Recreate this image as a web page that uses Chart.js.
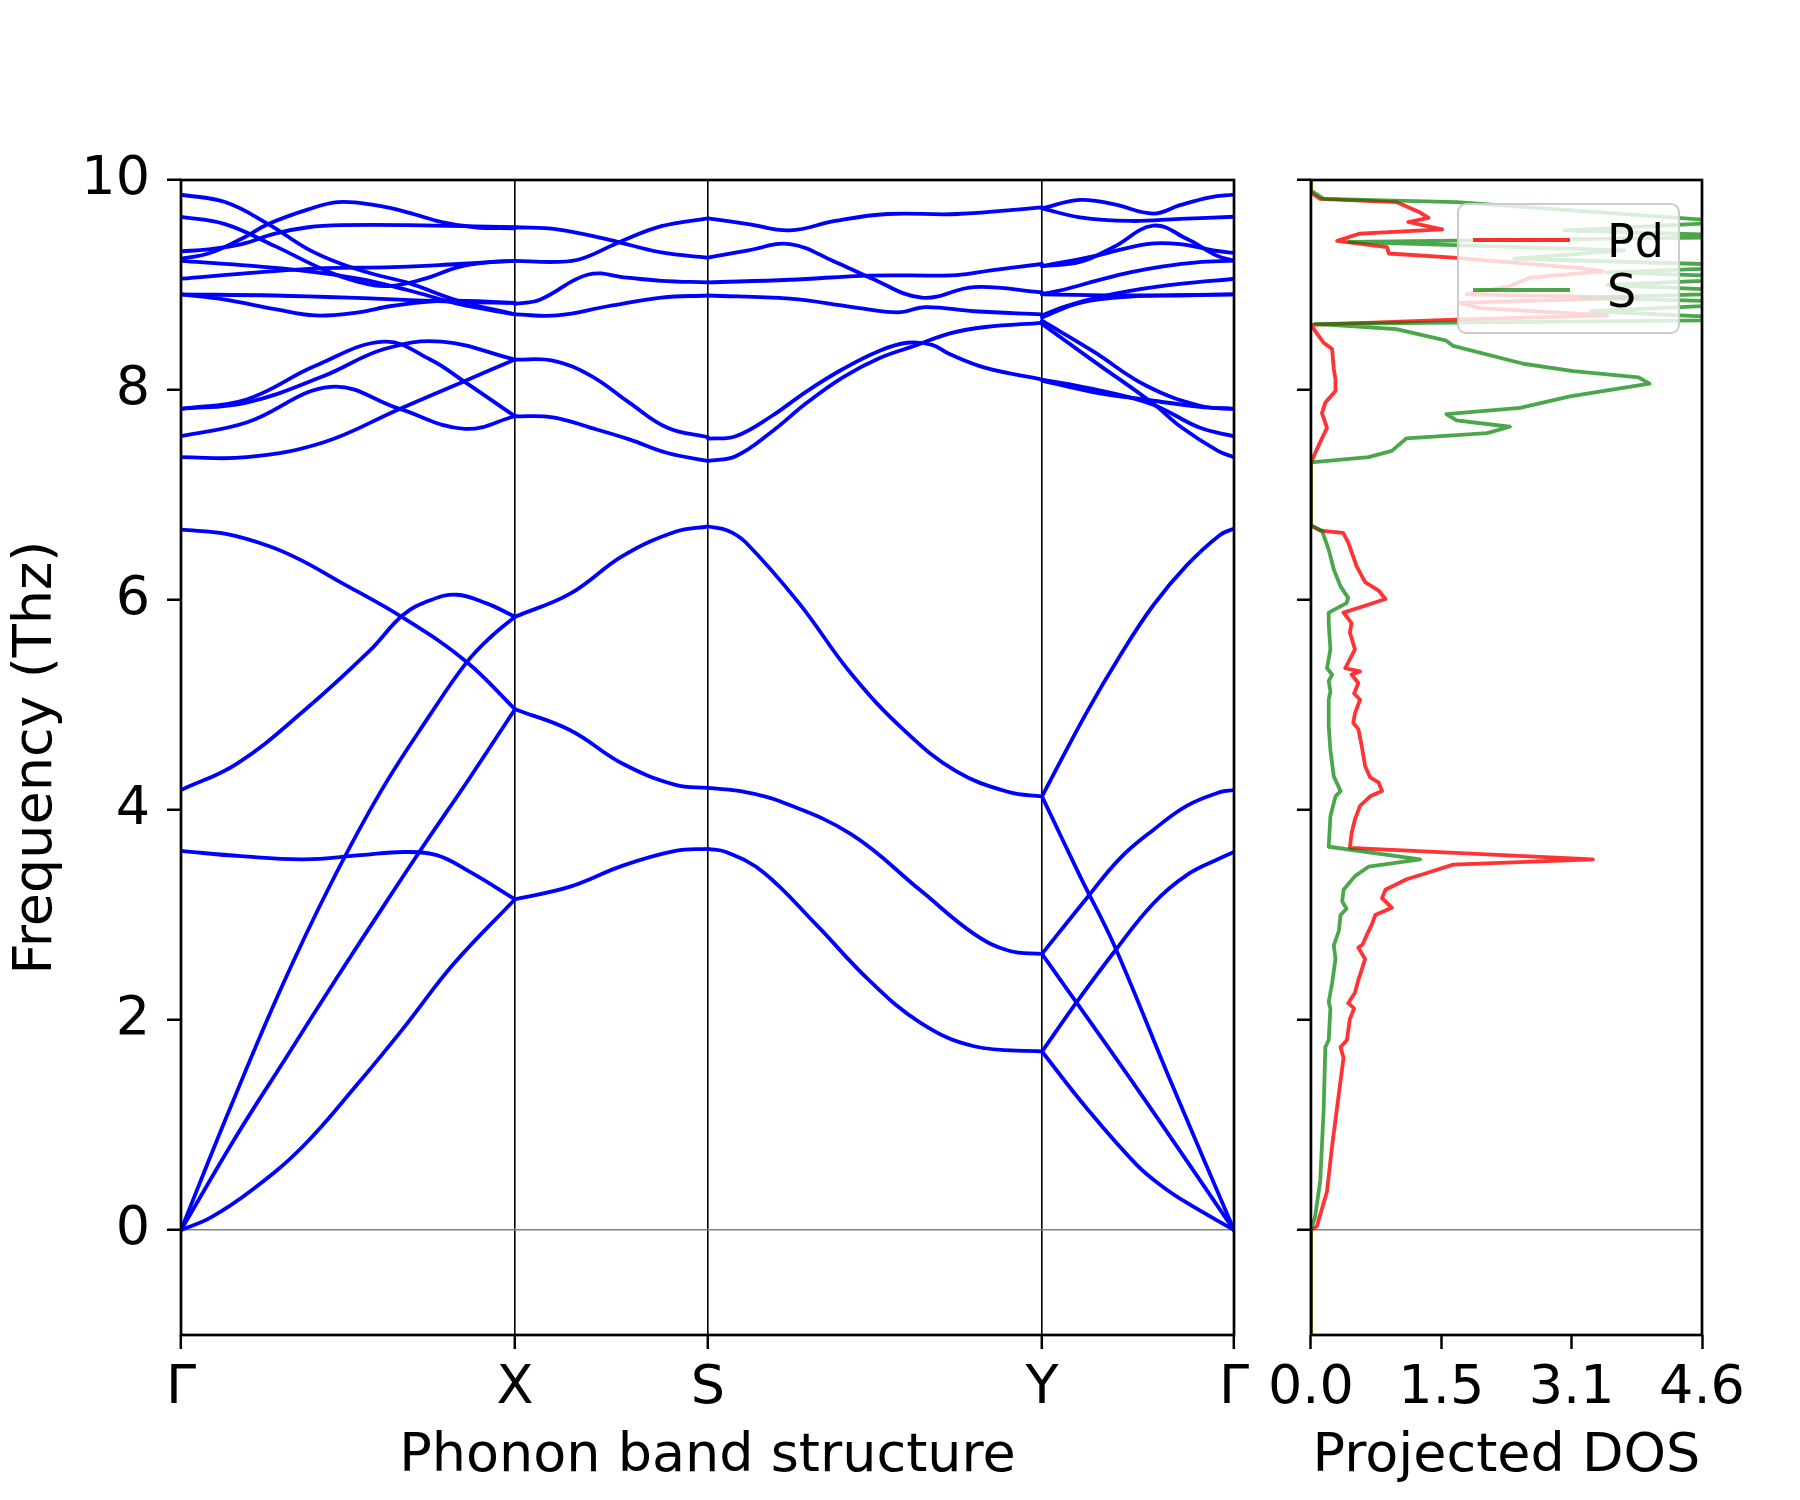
<!DOCTYPE html>
<html>
<head>
<meta charset="utf-8">
<script src="https://cdn.jsdelivr.net/npm/chart.js@4.4.0/dist/chart.umd.min.js"></script>
<style>
html,body{margin:0;padding:0;background:#fff;}
body{width:1800px;height:1500px;position:relative;overflow:hidden;font-family:'DejaVu Sans',sans-serif;}
canvas{position:absolute;top:0;}
#band{left:0;width:1260px;height:1500px;}
#dos{left:1260px;width:540px;height:1500px;}
#legendBox{position:absolute;left:1457px;top:203px;width:223px;height:131px;box-sizing:border-box;border:2.5px solid #cccccc;border-radius:9px;background:rgba(255,255,255,0.8);}
.sw{position:absolute;height:3.8px;}
.lt{position:absolute;font-size:46px;line-height:46px;color:#000;font-family:'DejaVu Sans',sans-serif;white-space:nowrap;}
</style>
</head>
<body>
<canvas id="band" width="1260" height="1500"></canvas>
<canvas id="dos" width="540" height="1500"></canvas>
<div id="legendBox"></div>
<script>
// ---------- axis data ----------
const kTicks = [0, 3.34, 5.27, 8.61, 10.53];
const kLabels = ['Γ', 'X', 'S', 'Y', 'Γ'];
const freqTicks = [0, 2, 4, 6, 8, 10];
const dosTicks = [0, 1.54, 3.08, 4.62];
const seriesNames = ['Pd', 'S'];

// ---------- phonon bands, [k, THz] per branch, per path segment ----------
const bandsGX = [
  [[0,0],[0.5,1.18],[1.0,2.3],[1.5,3.3],[2.0,4.18],[2.5,4.92],[2.86,5.41],[3.1,5.65],[3.34,5.84]],
  [[0,0],[0.557,0.9],[1.057,1.65],[1.557,2.4],[2.057,3.13],[2.39,3.61],[2.89,4.31],[3.34,4.96]],
  [[0,0],[0.3,0.12],[0.723,0.39],[1.223,0.80],[1.757,1.38],[2.223,1.92],[2.723,2.53],[3.34,3.15]],
  [[0,3.61],[0.6,3.56],[1.223,3.53],[1.8,3.57],[2.223,3.60],[2.557,3.57],[2.89,3.41],[3.34,3.15]],
  [[0,4.19],[0.557,4.44],[1.223,4.94],[1.89,5.52],[2.223,5.86],[2.5,6.0],[2.757,6.05],[3.05,5.97],[3.34,5.84]],
  [[0,6.67],[0.45,6.63],[0.89,6.51],[1.2,6.38],[1.557,6.19],[2.223,5.83],[2.857,5.41],[3.34,4.96]],
  [[0,7.36],[0.655,7.36],[1.421,7.50],[2.186,7.82],[2.799,8.07],[3.34,8.29]],
  [[0,7.56],[0.655,7.69],[1.497,8.03],[2.186,7.82],[2.837,7.63],[3.34,7.75]],
  [[0,7.82],[0.655,7.91],[1.344,8.23],[2.033,8.46],[2.492,8.29],[2.818,8.09],[3.34,7.75]],
  [[0,7.82],[0.655,7.88],[1.421,8.13],[2.033,8.39],[2.607,8.46],[3.34,8.29]],
  [[0,9.86],[0.44,9.79],[0.873,9.58],[1.273,9.34],[1.607,9.20],[1.94,9.10],[2.273,9.02],[2.773,8.85],[3.34,8.72]],
  [[0,9.65],[0.44,9.58],[0.94,9.37],[1.44,9.14],[1.773,9.03],[2.073,8.99],[2.44,9.06],[2.773,9.17],[3.107,9.22],[3.34,9.23]],
  [[0,9.25],[0.273,9.30],[0.607,9.44],[0.873,9.58],[1.273,9.72],[1.573,9.79],[1.94,9.76],[2.273,9.69],[2.607,9.60],[2.94,9.55],[3.34,9.54]],
  [[0,9.32],[0.273,9.34],[0.607,9.39],[0.94,9.49],[1.273,9.55],[1.607,9.57],[2.273,9.57],[3.34,9.55]],
  [[0,9.23],[0.607,9.19],[1.273,9.13],[1.773,9.06],[2.273,8.95],[2.773,8.82],[3.34,8.72]],
  [[0,9.06],[0.773,9.12],[1.44,9.16],[2.107,9.17],[2.773,9.20],[3.34,9.23]],
  [[0,8.91],[0.94,8.90],[1.94,8.87],[2.773,8.84],[3.34,8.83]],
  [[0,8.91],[0.44,8.86],[0.94,8.77],[1.34,8.71],[1.773,8.74],[2.107,8.80],[2.607,8.85],[3.34,8.83]]
];
const bandsXS = [
  [[3.34,5.84],[3.892,6.06],[4.418,6.42],[4.944,6.65],[5.27,6.70]],
  [[3.34,4.96],[3.892,4.76],[4.418,4.44],[4.944,4.24],[5.27,4.21]],
  [[3.34,3.15],[3.892,3.27],[4.418,3.47],[4.944,3.61],[5.27,3.63]],
  [[3.34,8.29],[3.717,8.28],[4.10,8.135],[4.482,7.88],[4.865,7.64],[5.27,7.55]],
  [[3.34,7.75],[3.717,7.74],[4.10,7.64],[4.482,7.53],[4.865,7.40],[5.27,7.325]],
  [[3.34,9.55],[3.761,9.53],[4.283,9.43],[4.804,9.31],[5.27,9.26]],
  [[3.34,9.23],[3.761,9.22],[4.005,9.25],[4.387,9.41],[4.804,9.56],[5.27,9.635]],
  [[3.34,8.82],[3.588,8.86],[4.074,9.10],[4.457,9.07],[4.804,9.04],[5.27,9.025]],
  [[3.34,8.72],[3.761,8.71],[4.283,8.80],[4.804,8.88],[5.27,8.90]]
];
const bandsSY = [
  [[5.27,6.70],[5.47,6.66],[5.646,6.55],[6.18,5.97],[6.70,5.30],[7.23,4.76],[7.75,4.37],[8.28,4.17],[8.61,4.13]],
  [[5.27,4.21],[5.646,4.17],[5.997,4.08],[6.70,3.77],[7.40,3.23],[7.93,2.82],[8.28,2.66],[8.61,2.63]],
  [[5.27,3.63],[5.45,3.60],[5.82,3.41],[6.35,2.91],[6.88,2.38],[7.40,1.97],[7.93,1.75],[8.61,1.70]],
  [[5.27,7.537],[5.547,7.56],[5.904,7.75],[6.261,7.99],[6.619,8.20],[6.976,8.37],[7.261,8.45],[7.511,8.43],[7.69,8.34],[8.047,8.21],[8.61,8.10]],
  [[5.27,7.325],[5.547,7.37],[5.904,7.60],[6.261,7.88],[6.619,8.12],[6.976,8.30],[7.333,8.42],[7.69,8.54],[8.047,8.60],[8.61,8.64]],
  [[5.27,9.635],[5.673,9.58],[6.09,9.52],[6.542,9.61],[7.063,9.676],[7.759,9.676],[8.61,9.74]],
  [[5.27,9.26],[5.673,9.33],[6.09,9.39],[6.542,9.22],[6.89,9.07],[7.411,8.88],[7.932,8.98],[8.61,8.93]],
  [[5.27,9.025],[6.09,9.05],[6.89,9.09],[7.759,9.095],[8.10,9.14],[8.61,9.20]],
  [[5.27,8.90],[6.09,8.87],[6.716,8.79],[7.168,8.74],[7.446,8.79],[7.932,8.75],[8.61,8.72]]
];
const bandsYG = [
  [[8.61,4.13],[9.057,4.93],[9.39,5.47],[9.723,5.95],[10.057,6.33],[10.39,6.62],[10.53,6.68]],
  [[8.61,4.13],[8.99,3.37],[9.333,2.71],[9.89,1.43],[10.53,0]],
  [[8.61,2.63],[9.057,3.16],[9.39,3.54],[9.723,3.81],[10.057,4.04],[10.39,4.17],[10.53,4.19]],
  [[8.61,2.63],[9.573,1.33],[10.53,0]],
  [[8.61,1.70],[8.957,2.17],[9.333,2.65],[9.723,3.11],[10.057,3.38],[10.39,3.54],[10.53,3.60]],
  [[8.61,1.70],[9.057,1.16],[9.557,0.62],[9.807,0.42],[10.057,0.26],[10.53,0]],
  [[8.61,8.66],[9.119,8.37],[9.654,8.04],[10.19,7.85],[10.53,7.82]],
  [[8.61,8.63],[9.119,8.28],[9.708,7.88],[10.011,7.64],[10.369,7.42],[10.53,7.36]],
  [[8.61,8.10],[9.119,8.01],[9.708,7.865],[10.19,7.64],[10.53,7.56]],
  [[8.61,8.09],[9.119,7.98],[9.708,7.90],[10.19,7.84],[10.53,7.82]],
  [[8.61,9.73],[8.99,9.81],[9.323,9.77],[9.723,9.68],[9.99,9.76],[10.29,9.835],[10.53,9.86]],
  [[8.61,9.73],[8.99,9.645],[9.49,9.61],[9.99,9.63],[10.53,9.65]],
  [[8.61,9.18],[8.99,9.22],[9.323,9.36],[9.723,9.565],[10.057,9.44],[10.357,9.28],[10.53,9.23]],
  [[8.61,9.18],[9.157,9.28],[9.657,9.39],[9.99,9.39],[10.323,9.33],[10.53,9.305]],
  [[8.61,8.914],[8.823,8.955],[9.157,9.041],[9.49,9.12],[9.823,9.177],[10.157,9.216],[10.53,9.232]],
  [[8.61,8.91],[9.49,8.90],[10.53,8.91]],
  [[8.61,8.71],[8.823,8.79],[9.157,8.88],[9.49,8.945],[9.99,9.01],[10.53,9.057]],
  [[8.61,8.69],[8.99,8.83],[9.49,8.89],[9.99,8.90],[10.53,8.91]]
];

// ---------- projected DOS, [THz, states] ----------
const dosPd = [[-1,0],[0,0],[0.035,0.07],[0.20,0.13],[0.37,0.19],[0.80,0.25],[1.64,0.385],[1.74,0.35],[1.81,0.425],[2.01,0.46],[2.11,0.51],[2.16,0.44],[2.26,0.52],[2.38,0.56],[2.58,0.64],[2.69,0.56],[2.72,0.61],[2.81,0.66],[2.91,0.72],[3.00,0.76],[3.07,0.955],[3.16,0.84],[3.24,0.88],[3.34,1.13],[3.40,1.37],[3.48,1.68],[3.53,3.33],[3.64,0.46],[3.78,0.48],[3.91,0.52],[4.04,0.58],[4.13,0.70],[4.18,0.84],[4.26,0.80],[4.31,0.70],[4.42,0.64],[4.61,0.60],[4.77,0.56],[4.83,0.50],[4.92,0.52],[5.05,0.58],[5.11,0.51],[5.21,0.56],[5.29,0.48],[5.32,0.58],[5.35,0.405],[5.53,0.52],[5.69,0.46],[5.78,0.48],[5.88,0.385],[5.94,0.62],[6.01,0.88],[6.09,0.80],[6.17,0.64],[6.32,0.54],[6.55,0.44],[6.64,0.38],[6.66,0.11],[6.71,0],[7.31,0],[7.47,0.09],[7.64,0.19],[7.78,0.13],[7.88,0.17],[7.99,0.29],[8.10,0.29],[8.20,0.27],[8.39,0.25],[8.45,0.15],[8.54,0.07],[8.62,0],[8.67,1.7],[8.71,3.5],[8.78,2.0],[8.83,1.76],[8.88,3.85],[8.91,1.84],[8.99,2.35],[9.07,2.59],[9.13,3.45],[9.16,3.18],[9.26,1.68],[9.30,0.92],[9.36,0.90],[9.42,0.31],[9.49,0.58],[9.53,1.55],[9.60,1.15],[9.64,1.39],[9.69,1.29],[9.79,1.01],[9.82,0.11],[9.88,0],[10,0]];
const dosS = [[-1,0],[0,0],[0.13,0.05],[0.47,0.11],[1.14,0.15],[1.74,0.17],[1.81,0.21],[2.11,0.23],[2.17,0.21],[2.35,0.25],[2.58,0.29],[2.71,0.27],[2.85,0.33],[3.00,0.35],[3.06,0.42],[3.13,0.37],[3.24,0.385],[3.37,0.52],[3.46,0.68],[3.53,1.29],[3.65,0.21],[3.94,0.23],[4.13,0.29],[4.18,0.35],[4.32,0.27],[4.57,0.23],[4.80,0.21],[5.05,0.21],[5.13,0.23],[5.23,0.21],[5.29,0.25],[5.35,0.19],[5.53,0.23],[5.77,0.21],[5.88,0.21],[5.97,0.42],[6.02,0.44],[6.13,0.35],[6.29,0.27],[6.48,0.21],[6.66,0.13],[6.71,0],[7.31,0],[7.36,0.68],[7.42,0.955],[7.54,1.13],[7.59,2.08],[7.65,2.35],[7.71,1.72],[7.77,1.60],[7.83,2.47],[7.94,3.06],[8.06,4.00],[8.12,3.87],[8.18,3.10],[8.25,2.51],[8.42,1.68],[8.47,1.60],[8.58,1.01],[8.63,0.05],[8.67,5.5],[8.75,3.3],[8.83,5.5],[8.88,3.2],[8.93,5.5],[9.00,3.5],[9.07,5.5],[9.12,3.5],[9.18,5.5],[9.25,2.4],[9.33,3.7],[9.41,0.45],[9.46,5.5],[9.52,3.0],[9.60,5.0],[9.79,1.72],[9.82,0.15],[9.90,0],[10,0]];

// ---------- styling ----------
const BAND_COLOR = '#0000ff';
const PD_COLOR = 'rgba(255,0,0,0.8)';
const S_COLOR = 'rgba(0,128,0,0.7)';
const FONT = 54;

Chart.defaults.font.family = "'DejaVu Sans', sans-serif";
Chart.defaults.color = '#000';

const framePlugin = {
  id: 'frame',
  afterDraw(chart) {
    const {ctx, chartArea: a} = chart;
    ctx.save();
    ctx.strokeStyle = '#000';
    ctx.lineWidth = 2.7;
    ctx.strokeRect(a.left, a.top, a.right - a.left, a.bottom - a.top);
    ctx.restore();
  }
};

const zeroGrid = ctx => (ctx.tick && ctx.tick.value === 0) ? '#808080' : 'rgba(0,0,0,0)';

// ---------- band structure chart ----------
const bandDatasets = [];
[bandsGX, bandsXS, bandsSY, bandsYG].forEach(seg => {
  seg.forEach(branch => {
    bandDatasets.push({
      data: branch.map(([k, f]) => ({x: k, y: f})),
      showLine: true,
      borderColor: BAND_COLOR,
      borderWidth: 3.8,
      borderCapStyle: 'round',
      borderJoinStyle: 'round',
      pointRadius: 0,
      pointHoverRadius: 0,
      fill: false,
      tension: 0.4
    });
  });
});

new Chart(document.getElementById('band'), {
  type: 'scatter',
  data: {datasets: bandDatasets},
  options: {
    responsive: false,
    animation: false,
    devicePixelRatio: 1,
    layout: {padding: {top: 180, right: 26, bottom: 0, left: 0}},
    plugins: {legend: {display: false}, tooltip: {enabled: false}},
    events: [],
    scales: {
      x: {
        type: 'linear', min: kTicks[0], max: kTicks[kTicks.length - 1],
        afterBuildTicks: s => { s.ticks = kTicks.map(v => ({value: v})); },
        ticks: {callback: (v, i) => kLabels[i], autoSkip: false, maxRotation: 0, padding: 8, font: {size: FONT}, color: '#000'},
        grid: {color: '#000', lineWidth: 1.6, tickLength: 14, tickWidth: 2.5, tickColor: '#000'},
        border: {display: false},
        title: {display: true, text: 'Phonon band structure', font: {size: FONT}, color: '#000', padding: {top: 0, bottom: 11}},
        afterFit: s => { s.height = 165; }
      },
      y: {
        type: 'linear', min: -1, max: 10,
        afterBuildTicks: s => { s.ticks = freqTicks.map(v => ({value: v})); },
        ticks: {callback: v => String(v), autoSkip: false, padding: 17, font: {size: FONT}, color: '#000'},
        grid: {color: zeroGrid, lineWidth: 1.5, tickLength: 14, tickWidth: 2.5, tickColor: '#000'},
        border: {display: false},
        title: {display: true, text: 'Frequency (Thz)', font: {size: FONT}, color: '#000', padding: {top: 5, bottom: 0}},
        afterFit: s => { s.width = 181; }
      }
    }
  },
  plugins: [framePlugin]
});

// ---------- projected DOS chart ----------
const dosSeries = [dosS, dosPd];
const dosColors = [S_COLOR, PD_COLOR];
const dosLabels = ['S', 'Pd'];
new Chart(document.getElementById('dos'), {
  type: 'scatter',
  data: {
    datasets: dosSeries.map((ser, i) => ({
      label: dosLabels[i],
      data: ser.map(([f, v]) => ({x: v, y: f})),
      showLine: true,
      borderColor: dosColors[i],
      borderWidth: 3.8,
      borderJoinStyle: 'round',
      pointRadius: 0,
      pointHoverRadius: 0,
      tension: 0,
      fill: false
    }))
  },
  options: {
    responsive: false,
    animation: false,
    devicePixelRatio: 1,
    layout: {padding: {top: 180, right: 98, bottom: 0, left: 0}},
    plugins: {legend: {display: false}, tooltip: {enabled: false}},
    events: [],
    scales: {
      x: {
        type: 'linear', min: dosTicks[0], max: dosTicks[dosTicks.length - 1],
        afterBuildTicks: s => { s.ticks = dosTicks.map(v => ({value: v})); },
        ticks: {callback: v => Number(v).toFixed(1), autoSkip: false, maxRotation: 0, padding: 8, font: {size: FONT}, color: '#000'},
        grid: {drawOnChartArea: false, tickLength: 14, tickWidth: 2.5, tickColor: '#000', color: '#000'},
        border: {display: false},
        title: {display: true, text: 'Projected DOS', font: {size: FONT}, color: '#000', padding: {top: 0, bottom: 11}},
        afterFit: s => { s.height = 165; }
      },
      y: {
        type: 'linear', min: -1, max: 10,
        afterBuildTicks: s => { s.ticks = freqTicks.map(v => ({value: v})); },
        ticks: {callback: () => '', autoSkip: false, padding: 0, font: {size: 10}},
        grid: {color: zeroGrid, lineWidth: 1.5, tickLength: 14, tickWidth: 2.5, tickColor: '#000'},
        border: {display: false},
        afterFit: s => { s.width = 50.7; }
      }
    }
  },
  plugins: [framePlugin]
});

// ---------- legend (HTML text) ----------
const legendColors = {Pd: PD_COLOR, S: S_COLOR};
const legendRows = [240, 290];
seriesNames.forEach((name, i) => {
  const sw = document.createElement('div');
  sw.className = 'sw';
  sw.style.left = '1473px';
  sw.style.top = (legendRows[i] - 1.9) + 'px';
  sw.style.width = '97px';
  sw.style.background = legendColors[name];
  document.body.appendChild(sw);
  const t = document.createElement('div');
  t.className = 'lt';
  t.style.left = '1607px';
  t.style.top = (legendRows[i] - 22) + 'px';
  t.textContent = name;
  document.body.appendChild(t);
});
</script>
</body>
</html>
